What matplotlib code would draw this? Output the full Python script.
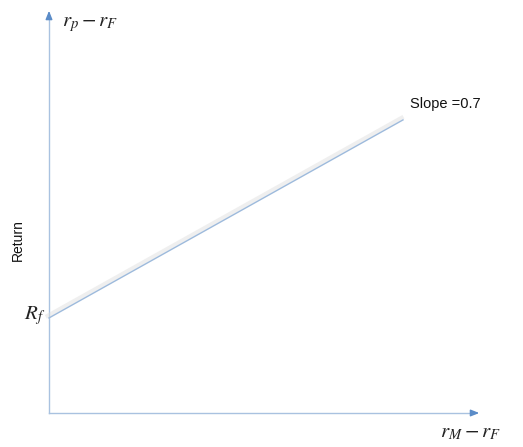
import matplotlib
matplotlib.use("Agg")
import matplotlib.pyplot as plt
import matplotlib.patheffects as pe

plt.rcParams['mathtext.fontset'] = 'stix'

# data
rf = 3.36
slope = 0.7
x_vals = [0.0, 10.0]
y_vals = [rf + slope * x for x in x_vals]

W, H = 523, 447
fig = plt.figure(figsize=(W / 100, H / 100), dpi=100)
ax = fig.add_axes([0, 0, 1, 1])
ux, uy = 35.4, 28.29
ox, oy = 49, 413
ax.set_xlim(-ox / ux, (W - ox) / ux)
ax.set_ylim(-(H - oy) / uy, oy / uy)
ax.axis('off')

axis_col = '#a9c2e0'
arrow_col = '#5b8cc8'
x_tip = (482 - ox) / ux
y_tip = (oy - 8) / uy
# axes
ax.plot([0, x_tip - 0.2], [0, 0], color=axis_col, lw=1.0)
ax.plot([0, 0], [0, y_tip - 0.25], color=axis_col, lw=1.0)
ax.annotate('', xy=(x_tip, 0), xytext=(x_tip - 0.3, 0),
            arrowprops=dict(arrowstyle='-|>,head_length=0.5,head_width=0.2', color=arrow_col, lw=1.0))
ax.annotate('', xy=(0, y_tip), xytext=(0, y_tip - 0.4),
            arrowprops=dict(arrowstyle='-|>,head_length=0.5,head_width=0.2', color=arrow_col, lw=1.0))

# security market line
ax.plot(x_vals, y_vals, color='#9dbadc', lw=1.0,
        path_effects=[pe.SimpleLineShadow(offset=(-1.0, 1.5), shadow_color='#e0e0e0', alpha=0.5, linewidth=3.0),
                      pe.Normal()])

ax.text((62 - ox) / ux, (oy - 24) / uy, r'$r_p - r_F$', fontsize=15,
        ha='left', va='center', color='#222222')
ax.text((18 - ox) / ux, (oy - 240) / uy, 'Return', rotation=90, fontsize=10,
        family='Liberation Sans', ha='center', va='center', color='#111111')
ax.text(-0.12, rf + 0.1, r'$R_f$', fontsize=15, ha='right', va='center', color='#222222')
ax.text(10.2, y_vals[1] + 0.55, 'Slope =0.7', fontsize=10.5, family='Liberation Sans',
        ha='left', va='center', color='#111111')
ax.text((440 - ox) / ux, (oy - 432) / uy, r'$r_M - r_F$', fontsize=15, ha='left', va='center', color='#222222')

fig.savefig('out.png', dpi=100)
